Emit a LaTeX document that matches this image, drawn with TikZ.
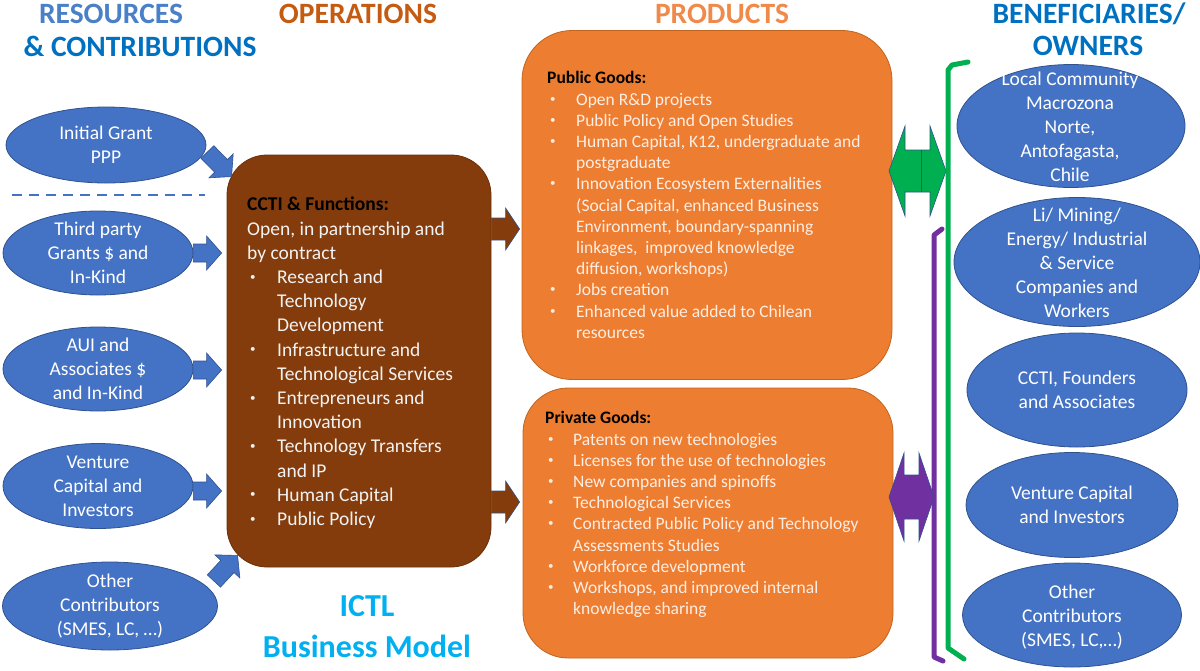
\documentclass[tikz,border=0pt]{standalone}
\usepackage{fontspec}
\setmainfont{Carlito}
\usetikzlibrary{shapes.geometric,calc}
\definecolor{ellblue}{HTML}{4472C4}
\definecolor{elledge}{HTML}{2F528F}
\definecolor{brownbox}{HTML}{843C0C}
\definecolor{orangebox}{HTML}{ED7D31}
\definecolor{orangeedge}{HTML}{C0651F}
\definecolor{hdrblue}{HTML}{0070C0}
\definecolor{hdrblueb}{HTML}{4A80C8}
\definecolor{hdrorange}{HTML}{C55A11}
\definecolor{prodorange}{HTML}{F08A4B}
\definecolor{ictlblue}{HTML}{00B0F0}
\definecolor{greenb}{HTML}{00B050}
\definecolor{purpleb}{HTML}{7030A0}
\definecolor{paletext}{HTML}{FDEEE4}
\newcommand{\itm}[1]{\makebox[#1][l]{\hspace{3pt}\raisebox{0.18em}{\fontsize{11}{11}\selectfont •}}}
\newcommand{\cnt}[1]{\hspace*{#1}}
\newcommand{\blockarr}[6]{%
  \filldraw[#1] let \p1=#2, \p2=#3, \n1={atan2(\y2-\y1,\x2-\x1)}, \n2={veclen(\x2-\x1,\y2-\y1)} in
  [shift={(\p1)}, rotate=\n1]
  (0,#4) -- ({\n2-#6},#4) -- ({\n2-#6},#5) -- (\n2,0) -- ({\n2-#6},-#5) -- ({\n2-#6},-#4) -- (0,-#4) -- cycle;}
\newcommand{\dblarr}[6]{%
  \filldraw[#1] let \p1=#2, \p2=#3, \n1={atan2(\y2-\y1,\x2-\x1)}, \n2={veclen(\x2-\x1,\y2-\y1)} in
  [shift={(\p1)}, rotate=\n1]
  (0,0) -- (#6,#5) -- (#6,#4) -- ({\n2-#6},#4) -- ({\n2-#6},#5) -- (\n2,0) -- ({\n2-#6},-#5) -- ({\n2-#6},-#4) -- (#6,-#4) -- (#6,-#5) -- cycle;}
\begin{document}
\begin{tikzpicture}[x=1pt,y=-1pt,
  hdr/.style={font=\fontsize{29.5}{34}\selectfont\bfseries, inner sep=0},
  ell/.style={ellipse, fill=ellblue, draw=elledge, line width=0.8pt, inner sep=0},
  elltext/.style={text=white, align=center, font=\fontsize{19.5}{24}\selectfont, inner sep=0},
  bigbox/.style={rectangle, line width=0.8pt, inner sep=0},
  boxtext/.style={align=left, inner sep=0, anchor=north west},
  bluearr/.style={fill=ellblue, draw=elledge, line width=0.6pt},
  brownarr/.style={fill=brownbox, draw=elledge, line width=0.6pt},
  bracket/.style={line width=5pt, line cap=round, line join=round}
]
\useasboundingbox (0,0) rectangle (1200,670);

% headers
\node[hdr, text=hdrblueb] (hres) at (111,14) {RESOURCES};
\node[hdr, text=hdrblue] (hcon) at (140,46) {\& CONTRIBUTIONS};
\node[hdr, text=hdrorange] (hops) at (358,14) {OPERATIONS};
\node[hdr, text=prodorange] (hprod) at (722,14) {PRODUCTS};
\node[hdr, text=hdrblue] (hben) at (1089,14) {BENEFICIARIES/};
\node[hdr, text=hdrblue] (hown) at (1088,46) {OWNERS};

% left ellipses
\node[ell, minimum width=200pt, minimum height=76pt] (l1) at (106,145) {};
\node[elltext] (l1t) at (l1) {Initial Grant\\PPP};
\draw[ellblue, line width=2.5pt, dash pattern=on 10pt off 7pt] (12,195) -- (205,195);
\node[ell, minimum width=190pt, minimum height=84pt] (l2) at (98,253) {};
\node[elltext] (l2t) at (l2) {Third party\\Grants \$ and\\In-Kind};
\node[ell, minimum width=190pt, minimum height=84pt] (l3) at (98,369) {};
\node[elltext] (l3t) at (l3) {AUI and\\Associates \$\\and In-Kind};
\node[ell, minimum width=190pt, minimum height=85pt] (l4) at (98,486) {};
\node[elltext] (l4t) at (l4) {Venture\\Capital and\\Investors};
\node[ell, minimum width=215pt, minimum height=88pt] (l5) at (110,606) {};
\node[elltext] (l5t) at (l5) {Other\\Contributors\\(SMES, LC, \dots)};

% central box
\node[bigbox, fill=brownbox, draw=brownbox!80!black, rounded corners=40pt, minimum width=264pt, minimum height=412pt] (ccti) at (359,361) {};
\node[boxtext, text=white!95!black, font=\fontsize{19.5}{24.2}\selectfont] (cctit) at (247,197) {%
\textcolor{black}{\textbf{CCTI \& Functions:}}\\
Open, in partnership and\\
by contract\\
\itm{30pt}Research and\\
\cnt{30pt}Technology\\
\cnt{30pt}Development\\
\itm{30pt}Infrastructure and\\
\cnt{30pt}Technological Services\\
\itm{30pt}Entrepreneurs and\\
\cnt{30pt}Innovation\\
\itm{30pt}Technology Transfers\\
\cnt{30pt}and IP\\
\itm{30pt}Human Capital\\
\itm{30pt}Public Policy};

% product boxes
\node[bigbox, fill=orangebox, draw=orangeedge, rounded corners=50pt, minimum width=370pt, minimum height=349pt] (pub) at (707,205) {};
\node[boxtext, text=paletext, font=\fontsize{17.5}{21.2}\selectfont] (pubt) at (547,71.5) {%
\textcolor{black}{\textbf{Public Goods:}}\\
\itm{29pt}Open R\&D projects\\
\itm{29pt}Public Policy and Open Studies\\
\itm{29pt}Human Capital, K12, undergraduate and\\
\cnt{29pt}postgraduate\\
\itm{29pt}Innovation Ecosystem Externalities\\
\cnt{29pt}(Social Capital, enhanced Business\\
\cnt{29pt}Environment, boundary-spanning\\
\cnt{29pt}linkages,\ \ improved knowledge\\
\cnt{29pt}diffusion, workshops)\\
\itm{29pt}Jobs creation\\
\itm{29pt}Enhanced value added to Chilean\\
\cnt{29pt}resources};

\node[bigbox, fill=orangebox, draw=orangeedge, rounded corners=45pt, minimum width=370pt, minimum height=270pt] (priv) at (708,523) {};
\node[boxtext, text=paletext, font=\fontsize{17.5}{21.2}\selectfont] (privt) at (545,411.5) {%
\textcolor{black}{\textbf{Private Goods:}}\\
\itm{28pt}Patents on new technologies\\
\itm{28pt}Licenses for the use of technologies\\
\itm{28pt}New companies and spinoffs\\
\itm{28pt}Technological Services\\
\itm{28pt}Contracted Public Policy and Technology\\
\cnt{28pt}Assessments Studies\\
\itm{28pt}Workforce development\\
\itm{28pt}Workshops, and improved internal\\
\cnt{28pt}knowledge sharing};

% right ellipses
\node[ell, minimum width=228pt, minimum height=123pt] (r1) at (1071,126) {};
\node[elltext] (r1t) at (1070,127) {Local Community\\Macrozona\\Norte,\\Antofagasta,\\Chile};
\node[ell, minimum width=246pt, minimum height=129pt] (r2) at (1077,262) {};
\node[elltext] (r2t) at (1077,263) {Li/ Mining/\\Energy/ Industrial\\\& Service\\Companies and\\Workers};
\node[ell, minimum width=220pt, minimum height=114pt] (r3) at (1077,390) {};
\node[elltext] (r3t) at (r3) {CCTI, Founders\\and Associates};
\node[ell, minimum width=212pt, minimum height=105pt] (r4) at (1072,505) {};
\node[elltext] (r4t) at (r4) {Venture Capital\\and Investors};
\node[ell, minimum width=219pt, minimum height=104pt] (r5) at (1072,615) {};
\node[elltext] (r5t) at (1072,617) {Other\\Contributors\\(SMES, LC,\dots)};

% ICTL title
\node[font=\fontsize{32}{41}\selectfont\bfseries, text=ictlblue, align=center, inner sep=0] (ictl) at (367,627) {ICTL\\Business Model};

% blue input arrows
\blockarr{bluearr}{($(l1.east)+(1,7)$)}{($(ccti.north west)+(5,22)$)}{9}{17}{15}
\blockarr{bluearr}{(l2.east)}{($(ccti.west |- l2.east)+(-5,0)$)}{9}{17}{15}
\blockarr{bluearr}{($(l3.east)+(0,1)$)}{($(ccti.west |- l3.east)+(-5,1)$)}{9}{17}{15}
\blockarr{bluearr}{($(l4.east)+(0,5)$)}{($(ccti.west |- l4.east)+(-5,5)$)}{9}{17}{15}
\blockarr{bluearr}{($(l5.east)+(-4,-25)$)}{($(ccti.south west)+(11,-12)$)}{9}{17}{15}

% brown output arrows
\blockarr{brownarr}{(ccti.east |- 0,229)}{($(pub.west |- 0,229)+(-2,0)$)}{11}{21}{14}
\blockarr{brownarr}{(ccti.east |- 0,502)}{($(priv.west |- 0,502)+(-3,0)$)}{11}{21}{14}

% brackets
\draw[bracket, greenb] (968,62) -- (952,65) -- (948,70) -- (948,648) -- (964,659);
\draw[bracket, purpleb] (942,229) -- (934,235) -- (934,657) -- (943,661);

% double arrows
\coordinate (gA) at (889,171);
\coordinate (gB) at (946,171);
\dblarr{fill=greenb, draw=elledge, line width=0.6pt}{(gA)}{(gB)}{21}{45}{16}
\draw[elledge, line width=0.8pt] ($(gA)+(32,-21)$) -- ($(gA)+(32,21)$);
\coordinate (pA) at (889,497);
\coordinate (pB) at (934,497);
\dblarr{fill=purpleb, draw=elledge, line width=0.6pt}{(pA)}{(pB)}{22}{44}{15}
\end{tikzpicture}
\end{document}
